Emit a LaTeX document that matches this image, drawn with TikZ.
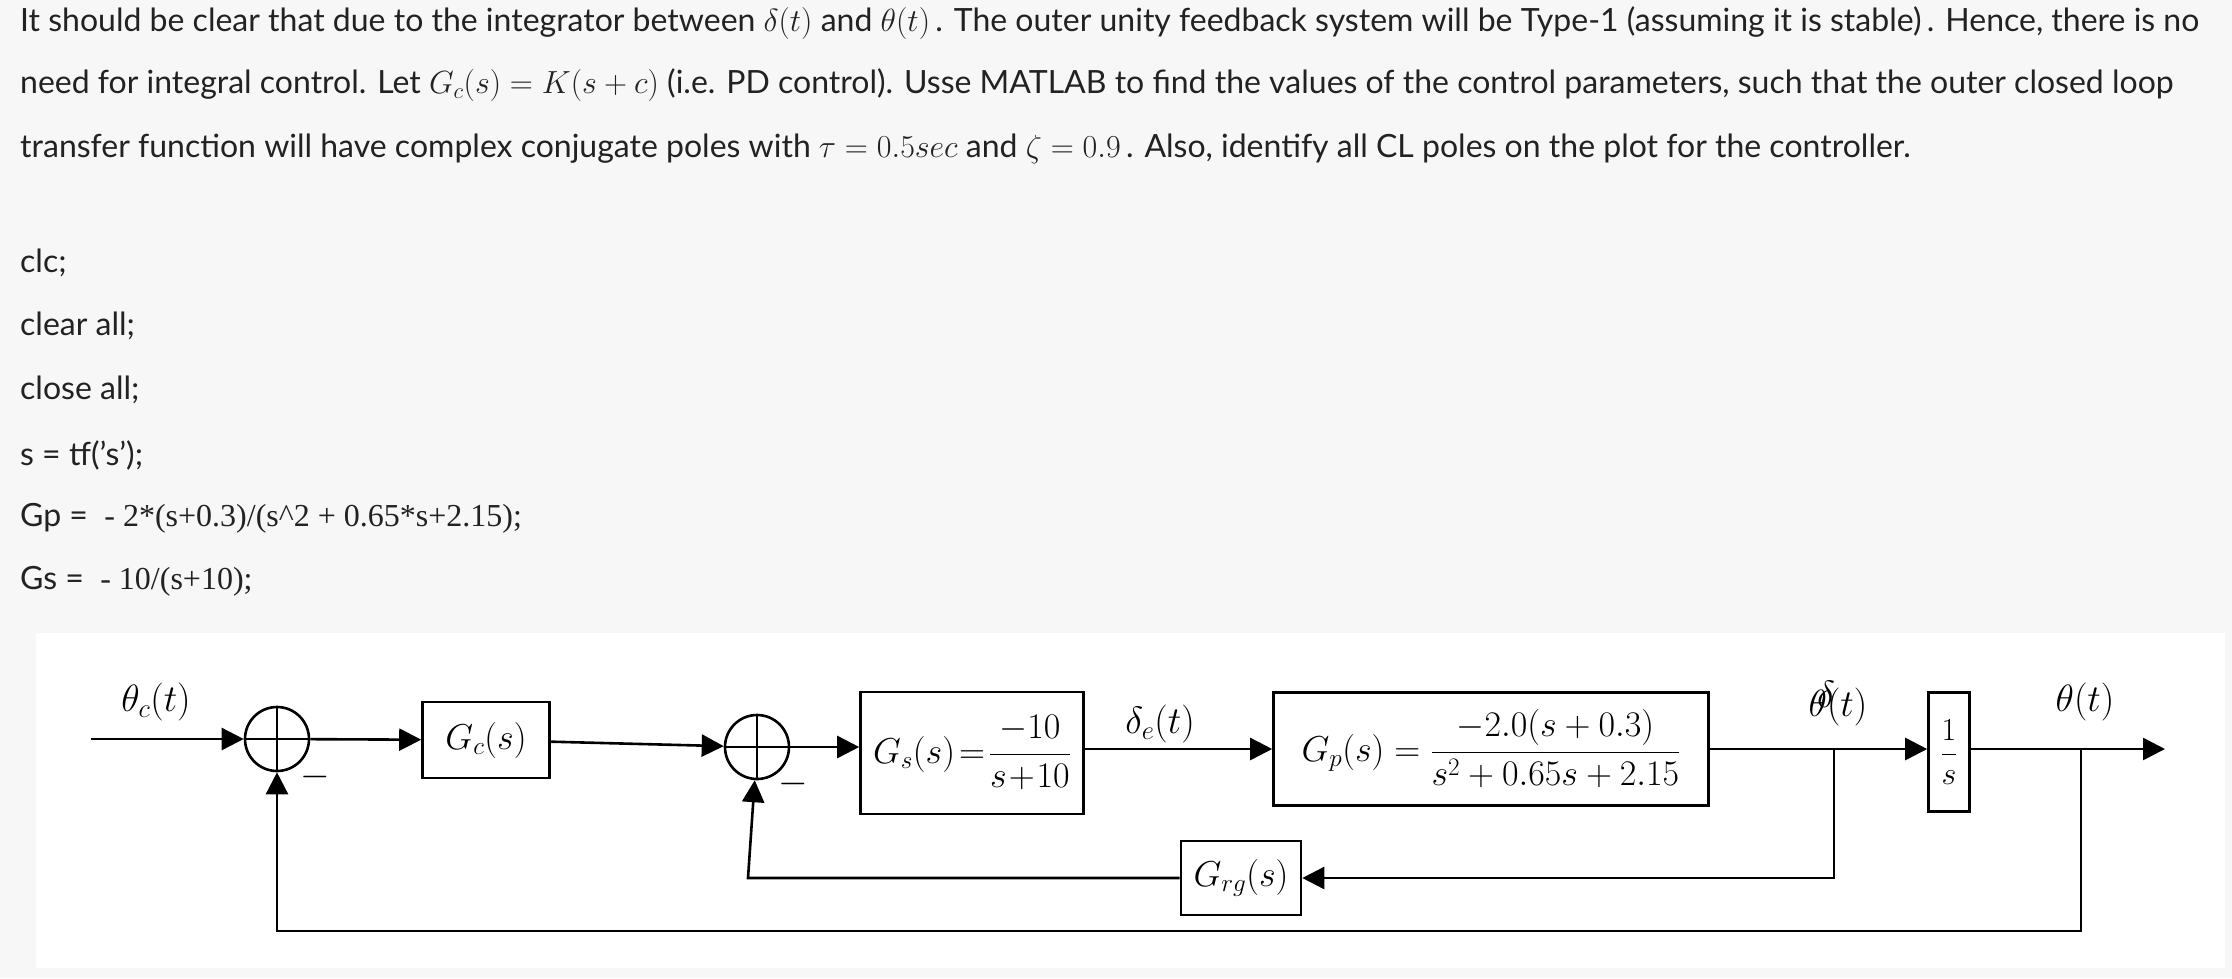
\RequirePackage{fix-cm}
\documentclass[tikz,border=0pt]{standalone}
\usepackage{fontspec}
\setmainfont{Lato}
\newfontfamily\serf{Liberation Serif}
\usetikzlibrary{arrows.meta}
\definecolor{bg}{HTML}{F7F7F7}
\definecolor{txt}{HTML}{222222}
\tikzset{
  para/.style={anchor=west,inner sep=0,font=\fontsize{32}{36}\selectfont,text=txt},
  blk/.style={draw,line width=2.6pt,inner sep=3pt,font=\fontsize{36}{40}\selectfont},
  sumc/.style={draw,circle,line width=2.6pt,minimum size=64pt,inner sep=0},
  sig/.style={line width=2.6pt},
  arr/.style={sig,-{Triangle[length=22pt,width=22pt]}},
  lbl/.style={font=\fontsize{38}{40}\selectfont,inner sep=0},
}
\begin{document}
\begin{tikzpicture}[x=1pt,y=-1pt]
\fill[bg] (0,0) rectangle (2232,978);
\useasboundingbox (0,0) rectangle (2232,978);
\fill[white] (36,633) rectangle (2225,968);
\node[para] (l1) at (20,23) {It should be clear that due to the integrator between $\delta(t)$ and $\theta(t)$\,. The outer unity feedback system will be Type-1 (assuming it is stable)\,. Hence, there is no};
\node[para] (l2) at (20,85) {need for integral control. Let $G_c(s) = K(s+c)$ (i.e. PD control). Usse MATLAB to find the values of the control parameters, such that the outer closed loop};
\node[para] (l3) at (20,149) {transfer function will have complex conjugate poles with $\tau = 0.5sec$ and $\zeta = 0.9$\,. Also, identify all CL poles on the plot for the controller.};
\node[para] (c1) at (20,263) {clc;};
\node[para] (c2) at (20,326) {clear all;};
\node[para] (c3) at (20,390) {close all;};
\node[para] (c4) at (20,455) {s = tf('s');};
\node[para] (c5) at (20,518) {Gp =~ {\serf - 2*(s+0.3)/(s\textasciicircum 2 + 0.65*s+2.15);}};
\node[para] (c6) at (20,581) {Gs =~ {\serf - 10/(s+10);}};
\coordinate (in) at (91,739);
\node[sumc] (s1) at (277,739) {};
\draw[line width=2pt] (s1.north)--(s1.south) (s1.west)--(s1.east);
\node[blk,minimum width=127pt,minimum height=76pt] (gc) at (486,740) {$G_c(s)$};
\node[sumc] (s2) at (757,747) {};
\draw[line width=2pt] (s2.north)--(s2.south) (s2.west)--(s2.east);
\node[blk,minimum width=223pt,minimum height=122pt,inner sep=1pt] (gs) at (972,753) {$G_s(s)\!=\!{\displaystyle\frac{-10}{s\!+\!10}}$};
\node[blk,minimum width=435pt,minimum height=113pt,inner sep=1pt] (gp) at (1491,749) {$G_p(s) = {\displaystyle\frac{-2.0(s+0.3)}{s^2+0.65s+2.15}}$};
\node[blk,minimum width=41pt,minimum height=119pt,inner sep=1pt,font=\fontsize{32}{36}\selectfont] (ig) at (1949,752) {$\displaystyle\frac{1}{s}$};
\node[blk,minimum width=120pt,minimum height=74pt] (grg) at (1241,878) {$G_{rg}(s)$};
\coordinate (outend) at (2165,749);
\coordinate (b1) at (1834,749);
\coordinate (b1d) at (1834,878);
\coordinate (b2) at (2081,749);
\coordinate (b2d) at (2081,931);
\coordinate (f1) at (748,878);
\coordinate (f2) at (277,931);
\draw[arr] (in) -- (s1);
\draw[arr] (s1) -- (gc);
\draw[arr] (gc) -- (s2);
\draw[arr] (s2) -- (gs.west|-s2);
\draw[arr] (gs.east|-gp) -- (gp);
\draw[arr] (gp) -- (ig.west|-gp);
\draw[arr] (ig.east|-gp) -- (outend);
\draw[arr] (b1) -- (b1d) -- (grg);
\draw[arr] (grg) -- (f1) -- (s2);
\draw[arr] (b2) -- (b2d) -- (f2) -- (s1);
\node[lbl] (m1) at (315,777) {$-$};
\node[lbl] (m2) at (793,784) {$-$};
\node[lbl] (tc) at (156,702) {$\theta_c(t)$};
\node[lbl] (de) at (1160,724) {$\delta_e(t)$};
\node[lbl] (th1) at (1838,707) {$\theta(t)$};
\node[lbl] (dl) at (1826,694) {$\delta$};
\node[lbl] (th) at (2085,702) {$\theta(t)$};
\end{tikzpicture}
\end{document}
